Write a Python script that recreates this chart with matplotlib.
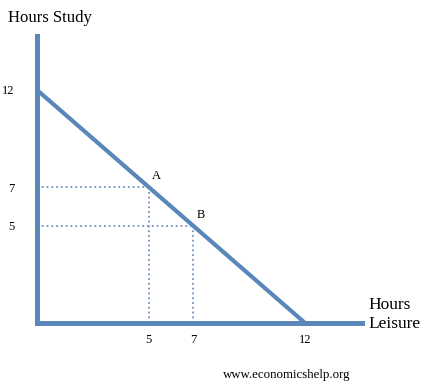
import matplotlib.pyplot as plt

# budget line: hours leisure vs hours study
leisure_line = [0, 12]
study_line = [12, 0]

point_names = ['A', 'B']
point_leisure = [5, 7]
point_study = [7, 5]

x_ticks = [5, 7, 12]
y_ticks = [5, 7, 12]

blue = '#5a87ba'
plt.rcParams['font.family'] = ['Liberation Serif', 'DejaVu Serif']

fig = plt.figure(figsize=(4.33, 3.86), dpi=100)
ax = fig.add_axes([0.0855, 0.1632, 0.7506, 0.7435])
ax.set_xlim(0, 14.55)
ax.set_ylim(0, 14.78)

# dotted guides
for lx, sy in zip(point_leisure, point_study):
    ax.plot([0, lx], [sy, sy], color='#6f93c0', ls=':', lw=1.3)
    ax.plot([lx, lx], [0, sy], color='#6f93c0', ls=':', lw=1.3)

ax.plot(leisure_line, study_line, color=blue, lw=3.0, solid_capstyle='butt')

for name, lx, sy in zip(point_names, point_leisure, point_study):
    ax.text(lx + 0.35, sy + 0.25, name, fontsize=9, ha='center', va='bottom')

for side in ['top', 'right']:
    ax.spines[side].set_visible(False)
for side in ['left', 'bottom']:
    ax.spines[side].set_color(blue)
    ax.spines[side].set_linewidth(3.6)

ax.set_xticks(x_ticks)
ax.set_yticks(y_ticks)
ax.set_xticklabels([str(v) for v in x_ticks])
ax.set_yticklabels([str(v) for v in y_ticks])
ax.tick_params(axis='x', length=0, pad=8, labelsize=9)
ax.tick_params(axis='y', length=0, pad=16, labelsize=9)

fig.text(8 / 433, 1 - 18 / 386, 'Hours Study', fontsize=12, ha='left', va='center')
fig.text(368 / 433, 1 - 305 / 386, 'Hours', fontsize=12.5, ha='left', va='center')
fig.text(368 / 433, 1 - 324 / 386, 'Leisure', fontsize=12.5, ha='left', va='center')
fig.text(287 / 433, 1 - 375 / 386, 'www.economicshelp.org', fontsize=9.3,
         ha='center', va='center')

fig.savefig('out.png', dpi=100)
